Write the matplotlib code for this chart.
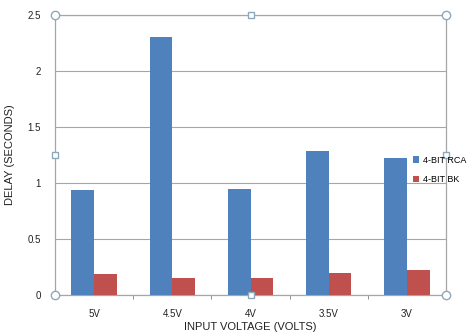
import numpy as np
import matplotlib
matplotlib.use("Agg")
import matplotlib.pyplot as plt

# data
categories = ["5V", "4.5V", "4V", "3.5V", "3V"]
rca_delay = [0.94, 2.30, 0.95, 1.29, 1.22]
bk_delay = [0.19, 0.155, 0.155, 0.20, 0.22]
y_ticks = [0, 0.5, 1, 1.5, 2, 2.5]
y_tick_labels = ["0", "0.5", "1", "1.5", "2", "2.5"]

plt.rcParams['font.family'] = ['Liberation Sans', 'DejaVu Sans']

fig = plt.figure(figsize=(4.74, 3.33), dpi=100)
ax = fig.add_axes([55 / 474, 38 / 333, 391 / 474, 280 / 333])

x = np.arange(len(categories))
w = 0.29
ax.bar(x - w / 2, rca_delay, width=w, color='#4F81BD', label='4-BIT RCA', zorder=3)
ax.bar(x + w / 2, bk_delay, width=w, color='#C0504D', label='4-BIT BK', zorder=3)

ax.set_xlim(-0.5, len(categories) - 0.5)
ax.set_ylim(0, 2.5)
ax.set_yticks(y_ticks)
ax.set_yticklabels(y_tick_labels)
ax.set_xticks(x)
ax.set_xticklabels(categories)
ax.set_xticks(np.arange(0.5, len(categories) - 0.5, 1), minor=True)

# grid and frame
ax.grid(True, axis='y', color='#a6a6a6', linewidth=0.8, zorder=0)
for side in ['top', 'right', 'left', 'bottom']:
    ax.spines[side].set_color('#a6a6a6')
    ax.spines[side].set_linewidth(0.9)
ax.tick_params(axis='x', which='major', length=0, labelsize=7, pad=10, colors='#222222')
ax.tick_params(axis='x', which='minor', length=3, color='#808080', direction='out')
ax.tick_params(axis='y', length=0, labelsize=7, pad=10, colors='#222222')

ax.set_xlabel('INPUT VOLTAGE (VOLTS)', fontsize=8, color='#222222', labelpad=2)
ax.set_ylabel('DELAY (SECONDS)', fontsize=8, color='#222222', labelpad=9)

# selection handles around the plot area
hc = '#8fa9bb'
for px, py in [(0, 0), (1, 0), (0, 1), (1, 1)]:
    ax.plot(px, py, 'o', ms=6, mfc='white', mec=hc, mew=1.0,
            transform=ax.transAxes, clip_on=False, zorder=5)
for px, py in [(0.5, 0), (0.5, 1), (0, 0.5), (1, 0.5)]:
    ax.plot(px, py, 's', ms=4.5, mfc='white', mec=hc, mew=1.0,
            transform=ax.transAxes, clip_on=False, zorder=5)

fig.legend(loc='center left', bbox_to_anchor=(410 / 474, 1 - 170 / 333),
           frameon=False, fontsize=6.5, handlelength=0.7, handleheight=0.7,
           handletextpad=0.4, labelspacing=1.2, borderaxespad=0, borderpad=0.3)

fig.savefig('out.png', dpi=100)
